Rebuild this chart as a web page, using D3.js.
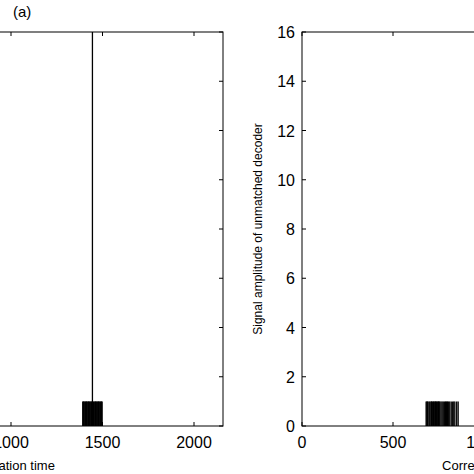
<!DOCTYPE html><html><head><script src="https://d3js.org/d3.v7.min.js"></script>
<style>body{margin:0;background:#fff}text{font-family:"Liberation Sans",Arial,sans-serif;fill:#000}</style></head><body><svg width="474" height="474"></svg>
<script>
const yTicks=[0,2,4,6,8,10,12,14,16];
const leftXTicks=[1000,1500,2000];
const rightXTicks=[0,500,1000];
const leftSpikePos=[1392,1396,1400,1404,1408,1412,1416,1420,1424,1428,1432,1436,1440,1445,1450,1454,1458,1462,1466,1470,1474,1478,1482,1486,1490,1494,1498];
const leftSpikeVal=[1,1,1,1,1,1,1,1,1,1,1,1,1,16,1,1,1,1,1,1,1,1,1,1,1,1,1];
const rightSpikePos=[682,686,690,697,702,708,712,716,722,726,730,734,738,742,746,750,754,758,764,770,776,782,788,794,800,806,812,820,828,834,840,850,858];
const rightSpikeVal=rightSpikePos.map(()=>1);
const svg=d3.select("svg");
const yTop=32,yBot=426;
const y=d3.scaleLinear().domain([0,16]).range([yBot,yTop]);
function panel(x,x0,x1,pos,val,xt,leftAxis,rightAxis){
  const g=svg.append("g");
  g.append("rect").attr("x",x0).attr("y",yTop).attr("width",x1-x0).attr("height",yBot-yTop).attr("fill","none").attr("stroke","#000").attr("stroke-width",1);
  xt.forEach(t=>{const px=x(t);
    g.append("line").attr("x1",px).attr("x2",px).attr("y1",yBot).attr("y2",yBot-4).attr("stroke","#000");
    g.append("line").attr("x1",px).attr("x2",px).attr("y1",yTop).attr("y2",yTop+4).attr("stroke","#000");
    g.append("text").attr("x",px).attr("y",yBot+22).attr("text-anchor","middle").attr("font-size",16).text(t);});
  yTicks.forEach(t=>{
    if(rightAxis) g.append("line").attr("x1",x1).attr("x2",x1-4).attr("y1",y(t)).attr("y2",y(t)).attr("stroke","#000");
    if(leftAxis){g.append("line").attr("x1",x0).attr("x2",x0+4).attr("y1",y(t)).attr("y2",y(t)).attr("stroke","#000");
      g.append("text").attr("x",x0-7).attr("y",y(t)+6).attr("text-anchor","end").attr("font-size",16).text(t);}
  });
  pos.forEach((p,i)=>g.append("line").attr("x1",x(p)).attr("x2",x(p)).attr("y1",yBot).attr("y2",y(val[i])).attr("stroke","#000").attr("stroke-width",1.3));
}
const xl=d3.scaleLinear().domain([1000,2000]).range([11,194]);
panel(xl,-10,223,leftSpikePos,leftSpikeVal,leftXTicks,false,true);
const xr=d3.scaleLinear().domain([0,500]).range([302,393]);
panel(xr,302,490,rightSpikePos,rightSpikeVal,rightXTicks,true,false);
svg.append("text").attr("x",13).attr("y",17).attr("font-size",15).text("(a)");
svg.append("text").attr("x",9).attr("y",470).attr("text-anchor","middle").attr("font-size",13).text("Correlation time");
svg.append("text").attr("x",488).attr("y",470).attr("text-anchor","middle").attr("font-size",13).text("Correlation time");
svg.append("text").attr("transform","translate(262,229) rotate(-90)").attr("text-anchor","middle").attr("font-size",12).text("Signal amplitude of unmatched decoder");
</script></body></html>
